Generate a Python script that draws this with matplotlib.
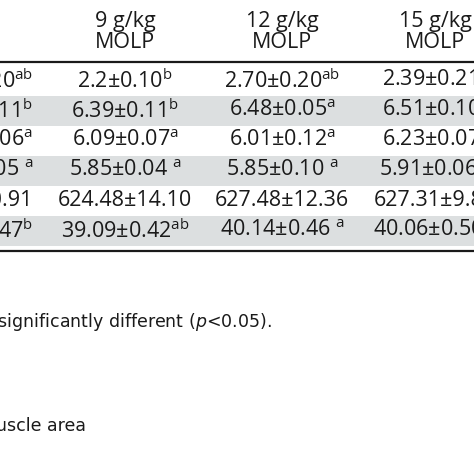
import matplotlib

matplotlib.use("Agg")
import matplotlib.pyplot as plt
from matplotlib.patches import Rectangle

plt.rcParams.update({
    "font.family": ["Open Sans", "DejaVu Sans"],
    "mathtext.fontset": "custom",
    "mathtext.rm": "Open Sans",
})

W = H = 474.0
HEADERS = ["9 g/kg\nMOLP", "12 g/kg\nMOLP", "15 g/kg\nMOLP"]
COL_X = [125, 282, 435]
LEFT_COL = ["2.41±0.20$^{\\mathrm{ab}}$", "6.31±0.11$^{\\mathrm{b}}$", "6.05±0.06$^{\\mathrm{a}}$",
            "5.80±0.05 $^{\\mathrm{a}}$", "620.16±10.91", "38.12±0.47$^{\\mathrm{b}}$"]
COL_9 = ["2.2±0.10$^{\\mathrm{b}}$", "6.39±0.11$^{\\mathrm{b}}$", "6.09±0.07$^{\\mathrm{a}}$",
         "5.85±0.04 $^{\\mathrm{a}}$", "624.48±14.10", "39.09±0.42$^{\\mathrm{ab}}$"]
COL_12 = ["2.70±0.20$^{\\mathrm{ab}}$", "6.48±0.05$^{\\mathrm{a}}$", "6.01±0.12$^{\\mathrm{a}}$",
          "5.85±0.10 $^{\\mathrm{a}}$", "627.48±12.36", "40.14±0.46 $^{\\mathrm{a}}$"]
COL_15 = ["2.39±0.21$^{\\mathrm{a}}$", "6.51±0.10$^{\\mathrm{a}}$", "6.23±0.07$^{\\mathrm{a}}$",
          "5.91±0.06 $^{\\mathrm{a}}$", "627.31±9.85", "40.06±0.50 $^{\\mathrm{a}}$"]
FOOT1 = "Means with different superscripts in the same row are significantly different ($\\it{p}$<0.05)."
FOOT2 = "LMA, longissimus muscle area"

fig = plt.figure(figsize=(4.74, 4.74), dpi=100)


def fx(x):
    return x / W


def fy(y):
    return 1 - y / H


# header
for x, h in zip(COL_X, HEADERS):
    fig.text(fx(x), fy(32), h, ha="center", va="center", fontsize=15.5, linespacing=1.0, color="#1a1a1a")

fig.add_artist(plt.Line2D([0, 1], [fy(62), fy(62)], color="#1a1a1a", lw=1.6))
row_y = [81, 111, 141, 171, 201, 231]
for i, y in enumerate(row_y):
    if i % 2 == 1:
        fig.add_artist(Rectangle((0, fy(y + 15)), 1, 30 / H, color="#dcdfe0", lw=0))
    fig.text(fx(33), fy(y), LEFT_COL[i], ha="right", va="center", fontsize=15.5, color="#1a1a1a")
    for x, col in zip(COL_X, [COL_9, COL_12, COL_15]):
        fig.text(fx(x), fy(y), col[i], ha="center", va="center", fontsize=15.5, color="#1a1a1a")
fig.add_artist(plt.Line2D([0, 1], [fy(251), fy(251)], color="#1a1a1a", lw=1.6))

fig.text(fx(272), fy(322), FOOT1, ha="right", va="center", fontsize=12.5,
         family=["Liberation Sans Narrow", "DejaVu Sans"], color="#1a1a1a")
fig.text(fx(86), fy(426), FOOT2, ha="right", va="center", fontsize=12.5,
         family=["Liberation Sans Narrow", "DejaVu Sans"], color="#1a1a1a")

fig.savefig("out.png", dpi=100)
